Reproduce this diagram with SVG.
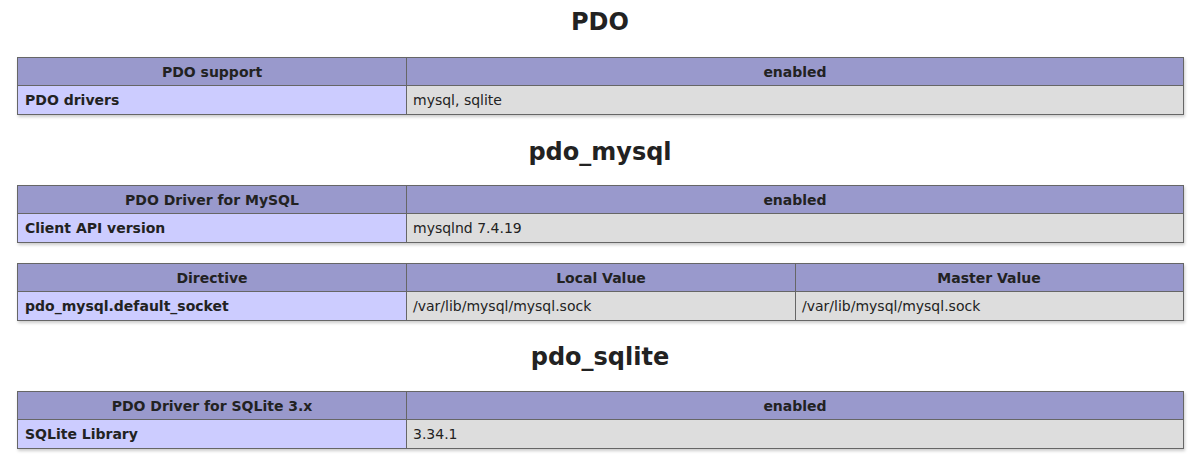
<svg xmlns="http://www.w3.org/2000/svg" width="1193" height="463" viewBox="0 0 1193 463">
<defs><filter id="sh" x="-5%" y="-20%" width="110%" height="150%"><feDropShadow dx="1" dy="2" stdDeviation="1.5" flood-color="#000" flood-opacity="0.2"/></filter></defs>
<style>
text{font-family:"DejaVu Sans",Verdana,sans-serif;font-size:14px;fill:#222}
.t{font-size:24px;font-weight:bold;text-anchor:middle}
.h{fill:#9999cc;stroke:#666;stroke-width:1}
.e{fill:#ccccff;stroke:#666;stroke-width:1}
.v{fill:#dddddd;stroke:#666;stroke-width:1}
.b{font-weight:bold}
.c{text-anchor:middle;font-weight:bold}
</style>
<rect width="1193" height="463" fill="#fff"/>
<text class="t" x="600" y="30">PDO</text>
<g id="t1" filter="url(#sh)">
<rect class="h" x="17.5" y="57.5" width="389" height="28"/><rect class="h" x="406.5" y="57.5" width="777" height="28"/>
<rect class="e" x="17.5" y="85.5" width="389" height="29"/><rect class="v" x="406.5" y="85.5" width="777" height="29"/>
</g>
<text class="c" x="212" y="77">PDO support</text><text class="c" x="795" y="77">enabled</text>
<text class="b" x="25" y="105">PDO drivers</text><text x="413" y="105">mysql, sqlite</text>
<text class="t" x="600" y="160">pdo_mysql</text>
<g id="t2" filter="url(#sh)">
<rect class="h" x="17.5" y="185.5" width="389" height="28"/><rect class="h" x="406.5" y="185.5" width="777" height="28"/>
<rect class="e" x="17.5" y="213.5" width="389" height="29"/><rect class="v" x="406.5" y="213.5" width="777" height="29"/>
</g>
<text class="c" x="212" y="205">PDO Driver for MySQL</text><text class="c" x="795" y="205">enabled</text>
<text class="b" x="25" y="233">Client API version</text><text x="413" y="233">mysqlnd 7.4.19</text>
<g id="t3" filter="url(#sh)">
<rect class="h" x="17.5" y="263.5" width="389" height="28"/><rect class="h" x="406.5" y="263.5" width="389" height="28"/><rect class="h" x="795.5" y="263.5" width="388" height="28"/>
<rect class="e" x="17.5" y="291.5" width="389" height="29"/><rect class="v" x="406.5" y="291.5" width="389" height="29"/><rect class="v" x="795.5" y="291.5" width="388" height="29"/>
</g>
<text class="c" x="212" y="283">Directive</text><text class="c" x="601" y="283">Local Value</text><text class="c" x="989" y="283">Master Value</text>
<text class="b" x="25" y="311">pdo_mysql.default_socket</text><text x="413" y="311">/var/lib/mysql/mysql.sock</text><text x="802" y="311">/var/lib/mysql/mysql.sock</text>
<text class="t" x="600" y="365">pdo_sqlite</text>
<g id="t4" filter="url(#sh)">
<rect class="h" x="17.5" y="391.5" width="389" height="28"/><rect class="h" x="406.5" y="391.5" width="777" height="28"/>
<rect class="e" x="17.5" y="419.5" width="389" height="29"/><rect class="v" x="406.5" y="419.5" width="777" height="29"/>
</g>
<text class="c" x="212" y="411">PDO Driver for SQLite 3.x</text><text class="c" x="795" y="411">enabled</text>
<text class="b" x="25" y="439">SQLite Library</text><text x="413" y="439">3.34.1</text>
</svg>
